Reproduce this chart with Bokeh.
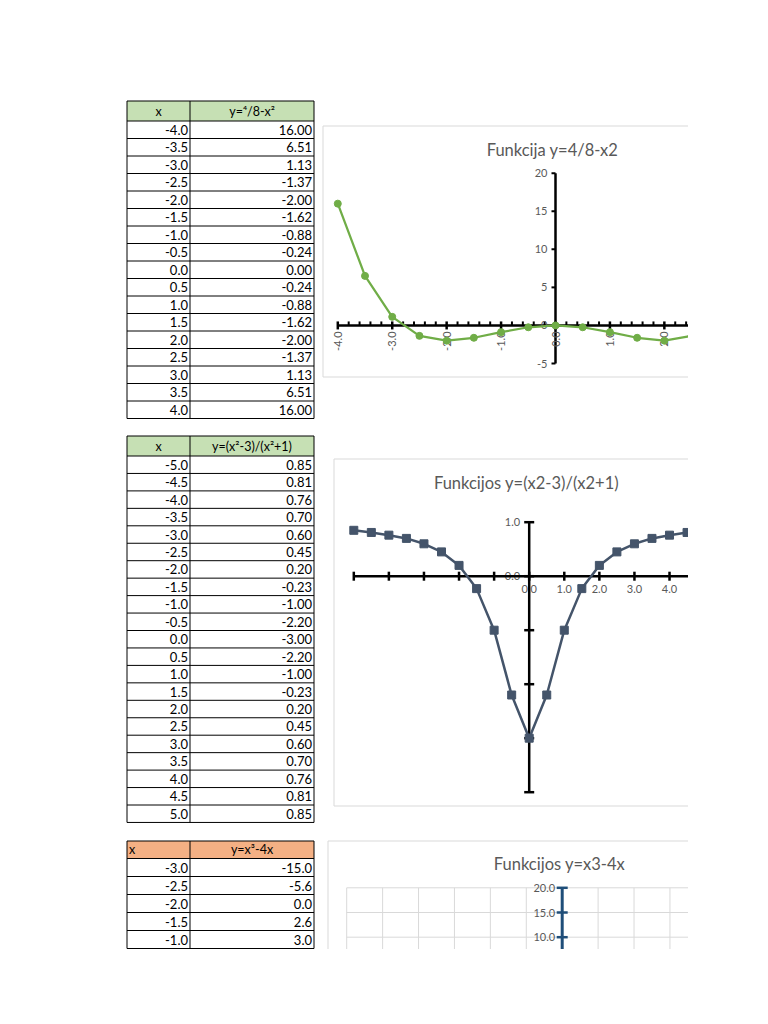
import math
import numpy as np
from bokeh.plotting import figure
from bokeh.models import Range1d
from bokeh.core.properties import value
from bokeh.embed import file_html
from bokeh.resources import INLINE

# ---------------- data ----------------
t1_header = ["x", "y=\u2074/8-x\u00b2"]
t1_x = [-4.0, -3.5, -3.0, -2.5, -2.0, -1.5, -1.0, -0.5, 0.0, 0.5, 1.0, 1.5, 2.0, 2.5, 3.0, 3.5, 4.0]
t1_y = [16.00, 6.51, 1.13, -1.37, -2.00, -1.62, -0.88, -0.24, 0.00, -0.24, -0.88, -1.62, -2.00, -1.37, 1.13, 6.51, 16.00]

t2_header = ["x", "y=(x\u00b2-3)/(x\u00b2+1)"]
t2_x = [-5.0, -4.5, -4.0, -3.5, -3.0, -2.5, -2.0, -1.5, -1.0, -0.5, 0.0, 0.5, 1.0, 1.5, 2.0, 2.5, 3.0, 3.5, 4.0, 4.5, 5.0]
t2_y = [0.85, 0.81, 0.76, 0.70, 0.60, 0.45, 0.20, -0.23, -1.00, -2.20, -3.00, -2.20, -1.00, -0.23, 0.20, 0.45, 0.60, 0.70, 0.76, 0.81, 0.85]

t3_header = ["x", "y=x\u00b3-4x"]
t3_x = [-3.0, -2.5, -2.0, -1.5, -1.0]
t3_y = [-15.0, -5.6, 0.0, 2.6, 3.0]

c1_title = "Funkcija y=4/8-x2"
c1_xticks = [-4, -3, -2, -1, 0, 1, 2, 3, 4]
c1_xlabel_at = [-4, -3, -2, -1, 0, 1, 2]
c1_xlabels = ["-4.0", "-3.0", "-2.0", "-1.0", "0.0", "1.0", "2.0"]
c1_yticks = [-5, 0, 5, 10, 15, 20]
c1_ylabels = ["-5", "0", "5", "10", "15", "20"]

c2_title = "Funkcijos y=(x2-3)/(x2+1)"
c2_xticks = [-5, -4, -3, -2, -1, 0, 1, 2, 3, 4, 5]
c2_xlabel_at = [0, 1, 2, 3, 4]
c2_xlabels = ["0.0", "1.0", "2.0", "3.0", "4.0"]
c2_yticks = [1, 0, -1, -2, -3, -4]
c2_ylabel_at = [1, 0]
c2_ylabels = ["1.0", "0.0"]

c3_title = "Funkcijos y=x3-4x"
c3_xgrid = [-3.0, -2.5, -2.0, -1.5, -1.0, -0.5, 0.0, 0.5, 1.0, 1.5, 2.0, 2.5, 3.0]
c3_yticks = [-20, -15, -10, -5, 0, 5, 10, 15, 20]
c3_ylabel_at = [10, 15, 20]
c3_ylabels = ["10.0", "15.0", "20.0"]

# ---------------- styles ----------------
FONT = value("Lato")
GREEN_HEAD = "#c6e0b4"
ORANGE_HEAD = "#f4b084"
BOX = "#d9d9d9"
LABEL = "#595959"

W, H = 752, 1008
# canvas coordinates = reference picture pixels
p = figure(width=W, height=H, x_range=Range1d(0, W), y_range=Range1d(H, 0),
           output_backend="svg", toolbar_location=None, min_border=0,
           x_axis_location=None, y_axis_location=None, outline_line_color=None)
p.grid.visible = False
p.background_fill_color = "white"


def draw_table(xs, ys, header, fill, left, mid, right, top, head_h, row_h, yfmt, x_head_left=False):
    n = len(xs)
    rows_top = top + head_h
    bottom = rows_top + n * row_h
    p.quad(left=[left], right=[right], top=[top], bottom=[rows_top], fill_color=fill, line_color=None)
    hy = [top] + [rows_top + i * row_h for i in range(n + 1)]
    p.segment(x0=[left] * len(hy), y0=hy, x1=[right] * len(hy), y1=hy, line_color="black", line_width=1)
    p.segment(x0=[left, mid, right], y0=[top] * 3, x1=[left, mid, right], y1=[bottom] * 3,
              line_color="black", line_width=1)
    if x_head_left:
        p.text(x=[left + 2], y=[top + head_h / 2], text=[header[0]], text_align="left",
               text_baseline="middle", text_font=FONT, text_font_size="12.5px", text_color="black")
    else:
        p.text(x=[(left + mid) / 2], y=[top + head_h / 2], text=[header[0]], text_align="center",
               text_baseline="middle", text_font=FONT, text_font_size="12.5px", text_color="black")
    p.text(x=[(mid + right) / 2], y=[top + head_h / 2], text=[header[1]], text_align="center",
           text_baseline="middle", text_font=FONT, text_font_size="12.5px", text_color="black")
    sub = p.subplot(x_source=Range1d(0, W), y_source=Range1d(-0.5, n - 0.5),
                    x_target=Range1d(0, W), y_target=Range1d(rows_top, bottom))
    idx = list(range(n))
    sub.text(x=[mid - 2] * n, y=idx, text=["%.1f" % v for v in xs], text_align="right",
             text_baseline="middle", text_font=FONT, text_font_size="13px", text_color="black")
    sub.text(x=[right - 2] * n, y=idx, text=[yfmt % v for v in ys], text_align="right",
             text_baseline="middle", text_font=FONT, text_font_size="13px", text_color="black")


draw_table(t1_x, t1_y, t1_header, GREEN_HEAD, 126.5, 189.5, 313.5, 100.5, 20, 17.5, "%.2f")
draw_table(t2_x, t2_y, t2_header, GREEN_HEAD, 126.5, 189.5, 313.5, 435.5, 20, 17.45, "%.2f")
draw_table(t3_x, t3_y, t3_header, ORANGE_HEAD, 126.5, 189.5, 313.5, 840.5, 17.5, 18, "%.1f", x_head_left=True)

# chart boxes
p.quad(left=[322.5, 333.5, 327.5], right=[740, 740, 740], top=[125.5, 458.5, 840.5],
       bottom=[376.5, 805.5, 1000], fill_color=None, line_color=BOX, line_width=1)

# ---------------- chart 1 ----------------
p.text(x=[552], y=[149], text=[c1_title], text_align="center", text_baseline="middle",
       text_font=FONT, text_font_size="16.5px", text_color=LABEL)
c1 = p.subplot(x_source=Range1d(-4, 0), y_source=Range1d(-5, 20),
               x_target=Range1d(337.3, 555), y_target=Range1d(363, 172.7))
c1.segment(x0=[-4, 0], y0=[0, -5], x1=[4, 0], y1=[0, 20], line_color="black", line_width=2.5)
minor1 = [v for v in np.round(np.arange(-4, 4.001, 0.2), 1) if abs(v - round(v)) > 1e-6]
c1.ray(x=minor1, y=[0] * len(minor1), length=4, length_units="screen", angle=math.pi / 2,
       line_color="black", line_width=2)
c1.scatter(c1_xticks, [0] * len(c1_xticks), marker="dash", angle=math.pi / 2, size=8,
           line_color="black", line_width=2.5)
c1.ray(x=[0] * len(c1_yticks), y=c1_yticks, length=4, length_units="screen", angle=math.pi,
       line_color="black", line_width=2)
c1.text(x=c1_xlabel_at, y=[0] * len(c1_xlabel_at), text=c1_xlabels, angle=math.pi / 2, text_align="right",
        text_baseline="middle", y_offset=6, text_font=FONT, text_font_size="11px", text_color=LABEL)
c1.text(x=[0] * len(c1_yticks), y=c1_yticks, text=c1_ylabels, text_align="right", text_baseline="middle",
        x_offset=-8, text_font=FONT, text_font_size="11px", text_color=LABEL)
c1.line(t1_x, t1_y, line_color="#70ad47", line_width=2.25)
c1.scatter(t1_x, t1_y, marker="circle", size=7, fill_color="#70ad47", line_color="#70ad47")

# ---------------- chart 2 ----------------
p.text(x=[526], y=[482], text=[c2_title], text_align="center", text_baseline="middle",
       text_font=FONT, text_font_size="16.5px", text_color=LABEL)
c2 = p.subplot(x_source=Range1d(-5, 0), y_source=Range1d(-4, 1),
               x_target=Range1d(353.3, 528.7), y_target=Range1d(791.7, 521.7))
c2.text(x=[0] * len(c2_ylabel_at), y=c2_ylabel_at, text=c2_ylabels, text_align="right",
        text_baseline="middle", x_offset=-9, text_font=FONT, text_font_size="11px", text_color=LABEL)
c2.text(x=c2_xlabel_at, y=[0] * len(c2_xlabel_at), text=c2_xlabels, text_align="center",
        text_baseline="middle", y_offset=13, text_font=FONT, text_font_size="11px", text_color=LABEL)
c2.segment(x0=[-5, 0], y0=[0, -4], x1=[5, 0], y1=[0, 1], line_color="black", line_width=2.5)
c2.scatter(c2_xticks, [0] * len(c2_xticks), marker="dash", angle=math.pi / 2, size=9,
           line_color="black", line_width=2.5)
c2.scatter([0] * len(c2_yticks), c2_yticks, marker="dash", size=10, line_color="black", line_width=2.5)
c2.line(t2_x, t2_y, line_color="#44546a", line_width=2.5)
c2.scatter(t2_x, t2_y, marker="square", size=8, fill_color="#44546a", line_color="#44546a")

# ---------------- chart 3 ----------------
p.text(x=[559], y=[863], text=[c3_title], text_align="center", text_baseline="middle",
       text_font=FONT, text_font_size="16.5px", text_color=LABEL)
c3 = p.subplot(x_source=Range1d(-3, 0), y_source=Range1d(10, 20),
               x_target=Range1d(346.2, 561.7), y_target=Range1d(936.7, 887.3))
c3.segment(x0=c3_xgrid, y0=[-20] * len(c3_xgrid), x1=c3_xgrid, y1=[20] * len(c3_xgrid),
           line_color=BOX, line_width=1)
c3.segment(x0=[-3] * len(c3_yticks), y0=c3_yticks, x1=[3] * len(c3_yticks), y1=c3_yticks,
           line_color=BOX, line_width=1)
c3.segment(x0=[0, -3], y0=[-20, 0], x1=[0, 3], y1=[20, 0], line_color="#1f4e79", line_width=3)
c3.scatter([0] * len(c3_yticks), c3_yticks, marker="dash", size=11, line_color="#1f4e79", line_width=2.5)
c3.text(x=[0] * len(c3_ylabel_at), y=c3_ylabel_at, text=c3_ylabels, text_align="right",
        text_baseline="middle", x_offset=-7, text_font=FONT, text_font_size="11px", text_color=LABEL)
c3.line(t3_x, t3_y, line_color="#1f4e79", line_width=2.25)
c3.scatter(t3_x, t3_y, marker="diamond", size=8, fill_color="#1f4e79", line_color="#1f4e79")

# page crop (the source page is cut at the right and bottom)
p.quad(left=[687.5, 320], right=[W, W], top=[0, 948.6], bottom=[H, H],
       fill_color="white", line_color=None)

open("out.html", "w").write(file_html(p, INLINE))
